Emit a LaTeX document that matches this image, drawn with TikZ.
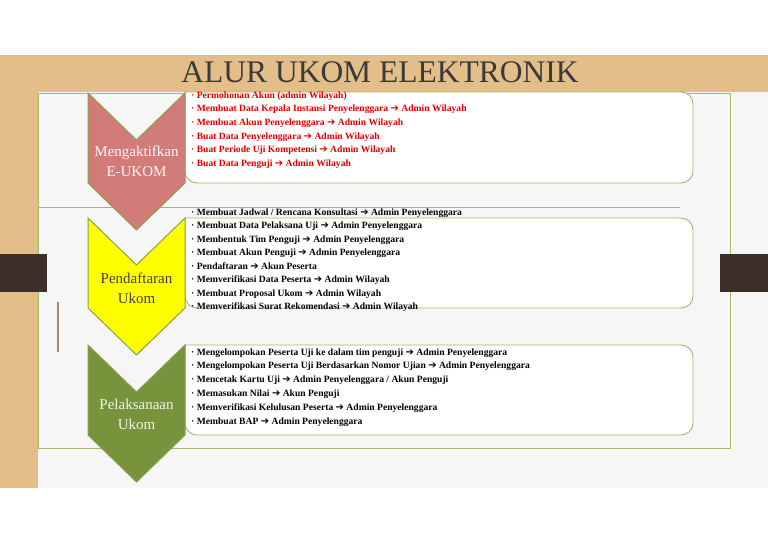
\documentclass[tikz,border=0pt]{standalone}
\usepackage{fontspec}
\setmainfont{Liberation Serif}
\newfontfamily\dejavu{DejaVu Sans}
\newcommand{\ukarr}{{\dejavu\bfseries\fontsize{10}{10}\selectfont ➔}}
\definecolor{tanc}{HTML}{E4BE89}
\definecolor{slidebg}{HTML}{F6F6F6}
\definecolor{frameg}{HTML}{A4B868}
\definecolor{darkbr}{HTML}{3B2F28}
\definecolor{pinkc}{HTML}{D27C7A}
\definecolor{yelc}{HTML}{FFFF00}
\definecolor{olivec}{HTML}{77933C}
\definecolor{chevb}{HTML}{8C9E4E}
\definecolor{polec}{HTML}{A68862}
\definecolor{titlec}{HTML}{3A3A3A}
\definecolor{redtxt}{HTML}{E00000}
\tikzset{
  chev/.style={draw=chevb, line width=1pt, line join=miter},
  tbox/.style={draw=frameg, fill=white, line width=0.9pt},
  item/.style={anchor=base west, inner sep=0pt, font=\fontsize{9.6}{11}\selectfont\bfseries},
  chevlab/.style={align=center, font=\fontsize{15}{20}\selectfont, inner sep=0pt},
}
\begin{document}
\begin{tikzpicture}[x=1pt,y=-1pt]
\useasboundingbox (0,0) rectangle (768,543);
\fill[white] (0,0) rectangle (768,543);
% slide background
\fill[slidebg] (0,55) rectangle (768,488);
% tan band and column
\fill[tanc] (0,55) rectangle (768,92);
\fill[tanc] (0,55) rectangle (38,488);
% frame
\draw[frameg, line width=0.9pt] (38,93) rectangle (730,448);
\draw[frameg, line width=0.9pt] (38,207) -- (680,207);
% dark bars and pole
\fill[darkbr] (0,254) rectangle (47,292);
\fill[darkbr] (720,254) rectangle (768,292);
\draw[polec, line width=2.5pt] (58,302) -- (58,352);
% title
\node[anchor=base, inner sep=0pt, font=\fontsize{31.5}{36}\selectfont, text=titlec] (title) at (380,82) {ALUR UKOM ELEKTRONIK};
% text boxes
\draw[tbox] (400,92) [rounded corners=12pt] -- (693,92) -- (693,183) -- (185,183) [sharp corners] -- (185,92) -- cycle;
\draw[tbox] (400,218) [rounded corners=12pt] -- (693,218) -- (693,308) -- (185,308) [sharp corners] -- (185,218) -- cycle;
\draw[tbox] (400,345) [rounded corners=12pt] -- (693,345) -- (693,435) -- (185,435) [sharp corners] -- (185,345) -- cycle;
% chevrons
\draw[chev, fill=pinkc] (88,93) -- (136.5,140) -- (185,93) -- (185,183) -- (136.5,230) -- (88,183) -- cycle;
\draw[chev, fill=yelc] (88,218) -- (136.5,265) -- (185,218) -- (185,308) -- (136.5,355) -- (88,308) -- cycle;
\draw[chev, fill=olivec] (88,345) -- (136.5,392) -- (185,345) -- (185,435) -- (136.5,482) -- (88,435) -- cycle;
\node[chevlab, text=white!94!pinkc] (lab1) at (136.5,161.5) {Mengaktifkan\\E-UKOM};
\node[chevlab, text=black!75] (lab2) at (136.5,288.5) {Pendaftaran\\Ukom};
\node[chevlab, text=white!90!olivec] (lab3) at (136.5,414.5) {Pelaksanaan\\Ukom};
% box 1 items
\foreach \t [count=\i from 0] in {
  {Permohonan Akun (admin Wilayah)},
  {Membuat Data Kepala Instansi Penyelenggara \ukarr{} Admin Wilayah},
  {Membuat Akun Penyelenggara \ukarr{} Admin Wilayah},
  {Buat Data Penyelenggara \ukarr{} Admin Wilayah},
  {Buat Periode Uji Kompetensi \ukarr{} Admin Wilayah},
  {Buat Data Penguji \ukarr{} Admin Wilayah}}
  \node[item, text=redtxt] (ia\i) at (191,98+13.7*\i) {·\ \t};
% box 2 items
\foreach \t [count=\i from 0] in {
  {Membuat Jadwal / Rencana Konsultasi \ukarr{} Admin Penyelenggara},
  {Membuat Data Pelaksana Uji \ukarr{} Admin Penyelenggara},
  {Membentuk Tim Penguji \ukarr{} Admin Penyelenggara},
  {Membuat Akun Penguji \ukarr{} Admin Penyelenggara},
  {Pendaftaran \ukarr{} Akun Peserta},
  {Memverifikasi Data Peserta \ukarr{} Admin Wilayah},
  {Membuat Proposal Ukom \ukarr{} Admin Wilayah},
  {Memverifikasi Surat Rekomendasi \ukarr{} Admin Wilayah}}
  \node[item, text=black] (ib\i) at (191,215+13.5*\i) {·\ \t};
% box 3 items
\foreach \t [count=\i from 0] in {
  {Mengelompokan Peserta Uji ke dalam tim penguji \ukarr{} Admin Penyelenggara},
  {Mengelompokan Peserta Uji Berdasarkan Nomor Ujian \ukarr{} Admin Penyelenggara},
  {Mencetak Kartu Uji \ukarr{} Admin Penyelenggara / Akun Penguji},
  {Memasukan Nilai \ukarr{} Akun Penguji},
  {Memverifikasi Kelulusan Peserta \ukarr{} Admin Penyelenggara},
  {Membuat BAP \ukarr{} Admin Penyelenggara}}
  \node[item, text=black] (ic\i) at (191,355+13.8*\i) {·\ \t};
\end{tikzpicture}
\end{document}
